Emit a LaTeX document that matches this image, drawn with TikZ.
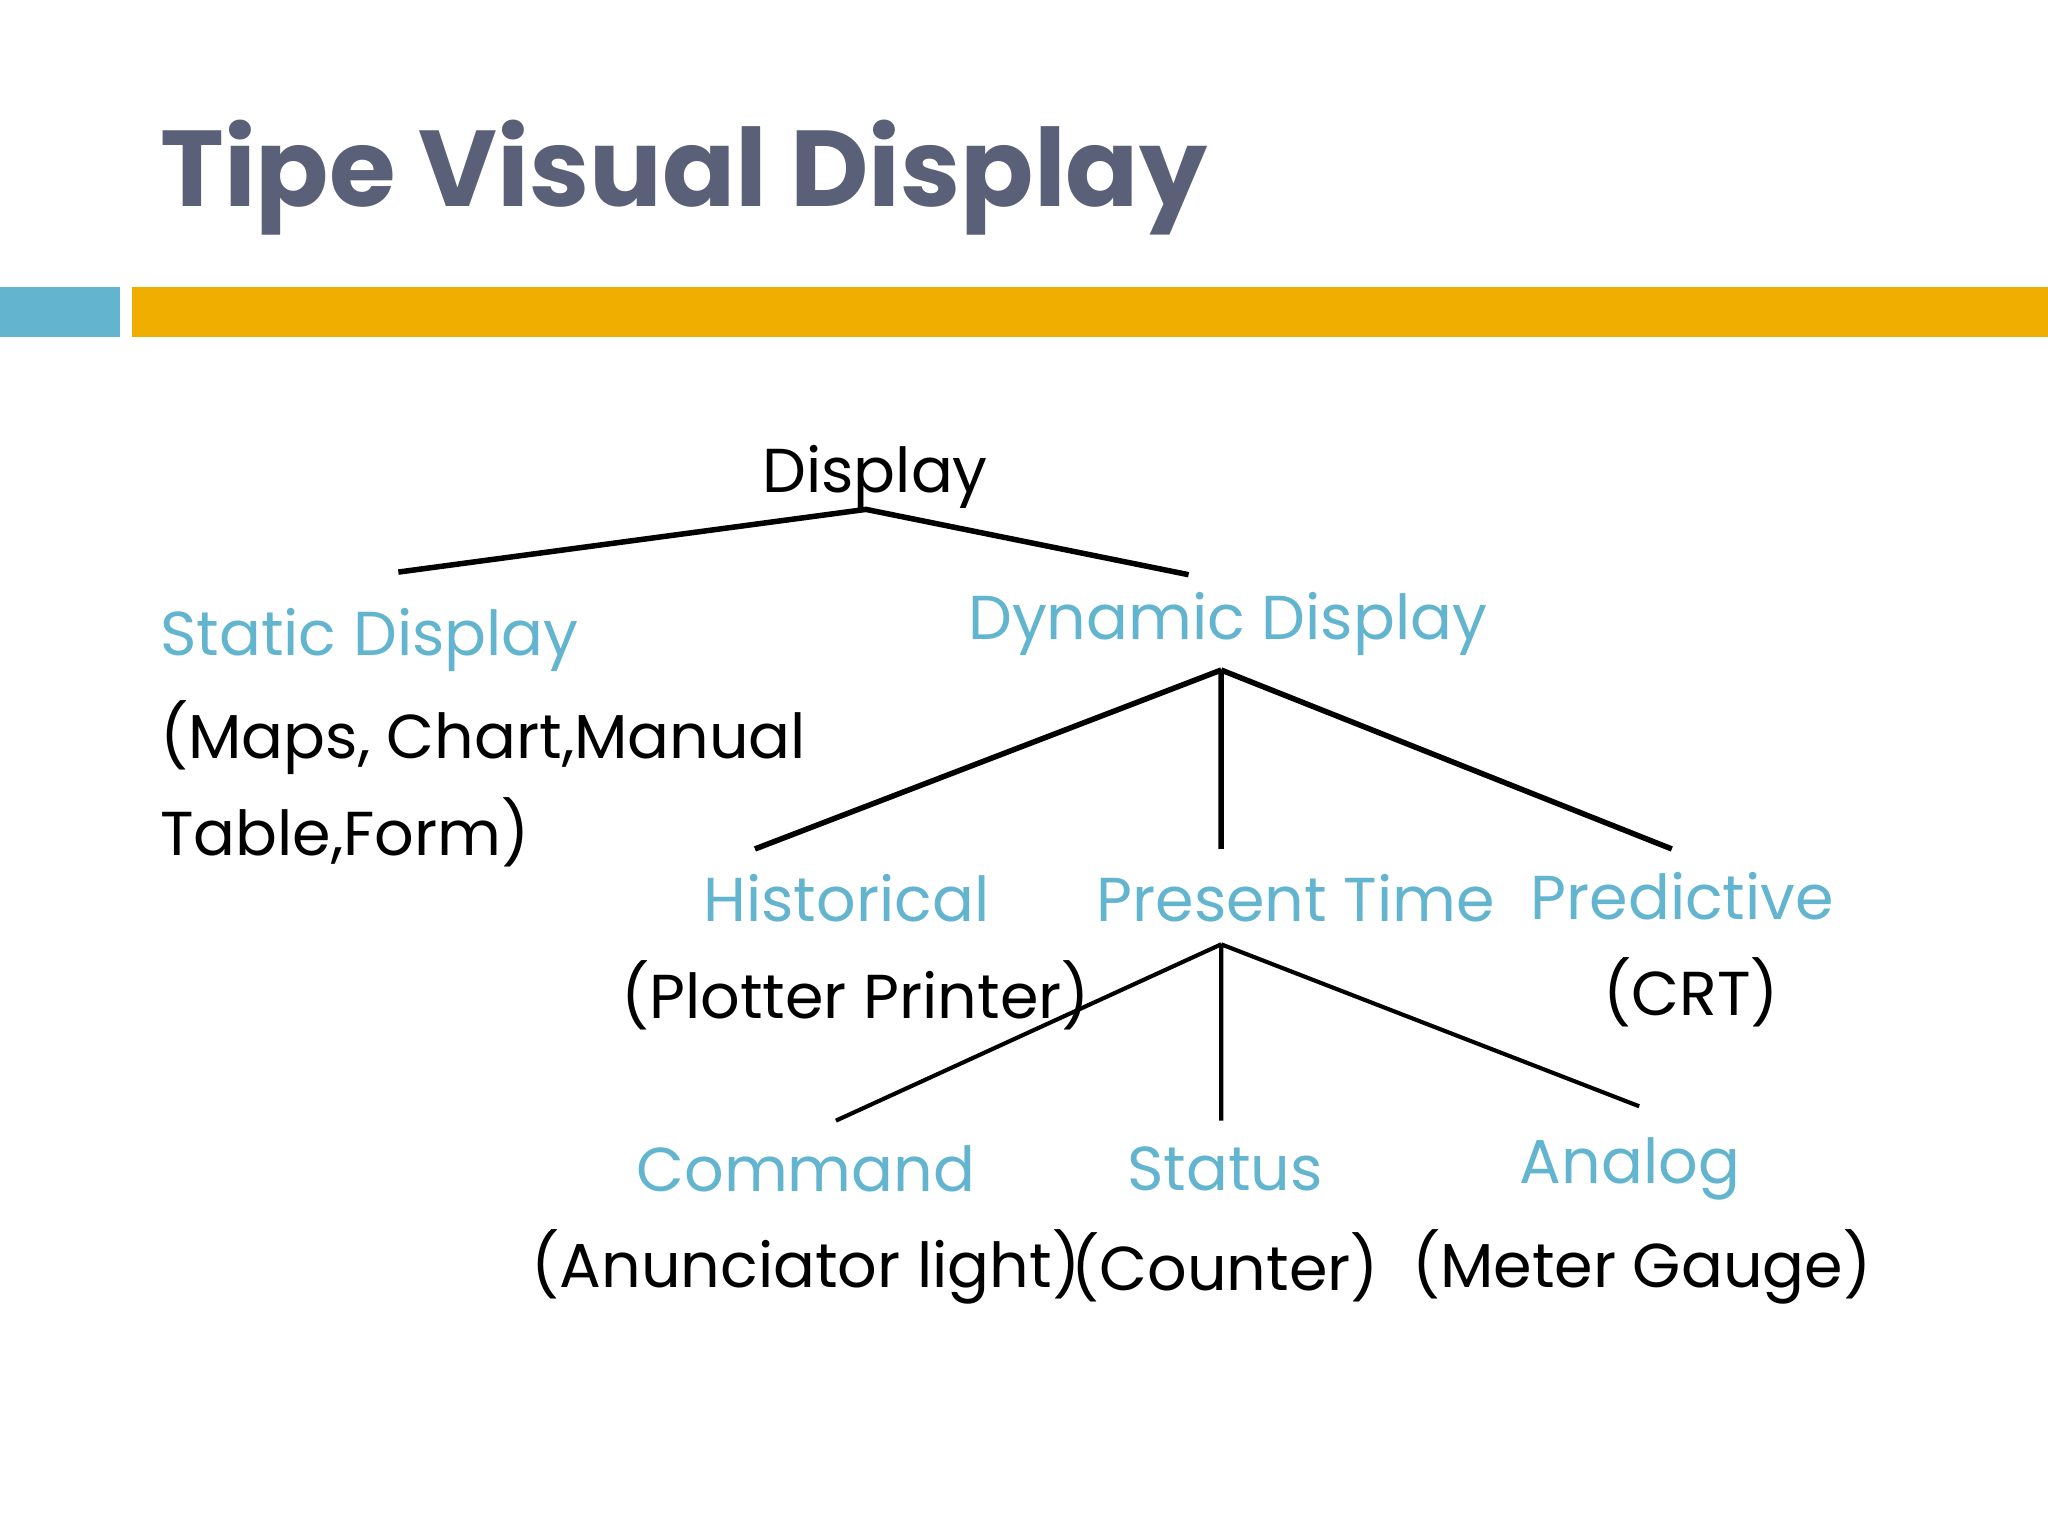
\documentclass[tikz,border=0pt]{standalone}
\usepackage{fontspec}
\setmainfont{Poppins}
\definecolor{teal}{HTML}{63B4CF}
\definecolor{org}{HTML}{EFAE00}
\definecolor{ttl}{HTML}{5A6078}
\begin{document}
\begin{tikzpicture}[x=0.01cm,y=-0.01cm,
  hd/.style={text=teal,font=\fontsize{13.5}{16}\selectfont,inner sep=0},
  bd/.style={text=black,font=\fontsize{13.5}{16}\selectfont,inner sep=0},
  ln/.style={line width=1.2pt},
  ln2/.style={line width=0.9pt}]
\useasboundingbox (0,0) rectangle (1568,1176);
\node[anchor=base west,text=ttl,font=\fontsize{23.5}{28}\selectfont\bfseries,inner sep=0] (title) at (122,158) {Tipe Visual Display};
\fill[teal] (0,220) rectangle (92,258);
\fill[org] (101,220) rectangle (1568,258);
\node[bd] (disp) at (670,365) {Display};
\coordinate (d0) at (663,390);
\coordinate (s0) at (305,438);
\coordinate (y0) at (910,440);
\draw[ln] (s0) -- (d0) -- (y0);
\node[hd,anchor=west] (stat) at (122,490) {Static Display};
\node[bd,anchor=west] (s1) at (122,565) {(Maps, Chart,Manual};
\node[bd,anchor=west] (s2) at (122,637) {Table,Form)};
\node[hd] (dyn) at (940,478) {Dynamic Display};
\coordinate (dy) at (935,513);
\coordinate (h0) at (578,650);
\coordinate (p0) at (935,650);
\coordinate (r0) at (1280,650);
\draw[ln] (dy) -- (h0) (dy) -- (p0) (dy) -- (r0);
\node[hd] (hist) at (648,688) {Historical};
\node[bd] (hist2) at (655,762) {(Plotter Printer)};
\node[hd] (pres) at (992,688) {Present Time};
\node[hd] (pred) at (1288,686) {Predictive};
\node[bd] (pred2) at (1295,760) {(CRT)};
\coordinate (pt) at (935,723);
\coordinate (c0) at (640,858);
\coordinate (st0) at (935,858);
\coordinate (a0) at (1255,847);
\draw[ln2] (pt) -- (c0) (pt) -- (st0) (pt) -- (a0);
\node[hd] (cmd) at (617,895) {Command};
\node[hd] (sts) at (938,895) {Status};
\node[hd] (ana) at (1248,895) {Analog};
\node[bd] (cmd2) at (617,970) {(Anunciator light)};
\node[bd] (sts2) at (938,970) {(Counter)};
\node[bd] (ana2) at (1257,970) {(Meter Gauge)};
\end{tikzpicture}
\end{document}
